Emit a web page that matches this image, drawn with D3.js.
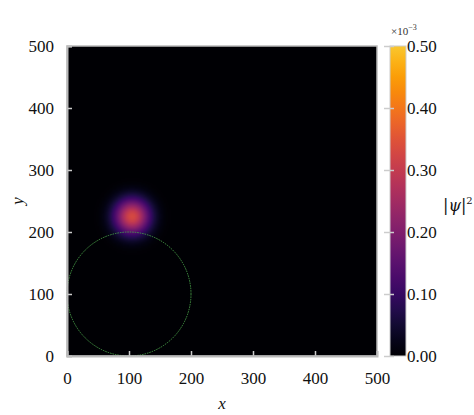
<!DOCTYPE html>
<meta charset="utf-8">
<style>
    body { margin: 0; background: #fff; }
    text { font-family: "Liberation Serif", "DejaVu Serif", serif; }
</style>
<body>
<script src="https://cdn.jsdelivr.net/npm/d3@7"></script>
<script>
    /* data */
    var xTicks = [0, 100, 200, 300, 400, 500];
    var yTicks = [0, 100, 200, 300, 400, 500];
    var cbTicks = [0, 0.1, 0.2, 0.3, 0.4, 0.5];      // x 1e-3
    var blobCenter = [105, 225];                     // packet position
    var blobSigma = [20, 20];                        // packet width
    var blobPeak = [0.33];                           // |psi|^2 peak, x 1e-3
    var circleCenter = [100, 100];
    var circleRadius = [100];

    var w = 474, h = 415;
    var pLeft = 67, pRight = 377, pTop = 46, pBottom = 356;
    var fontFam = "'Liberation Serif', serif";

    var svg = d3.select("body").append("svg").attr("width", w).attr("height", h);

    var xScale = d3.scaleLinear().domain([0, 500]).range([pLeft, pRight]);
    var yScale = d3.scaleLinear().domain([0, 500]).range([pBottom, pTop]);
    var cScale = d3.scaleSequential(function (t) { return d3.interpolateInferno(t * 0.87); }).domain([0, 0.5]);

    /* density image drawn on a canvas, one pixel per grid cell */
    var n = 250;
    var canvas = document.createElement("canvas");
    canvas.width = n; canvas.height = n;
    var ctx = canvas.getContext("2d");
    var img = ctx.createImageData(n, n);
    for (var j = 0; j < n; j++) {
        for (var i = 0; i < n; i++) {
            var x = (i + 0.5) * 500 / n, y = 500 - (j + 0.5) * 500 / n;
            var dx = (x - blobCenter[0]) / blobSigma[0], dy = (y - blobCenter[1]) / blobSigma[1];
            var v = blobPeak[0] * Math.exp(-(dx * dx + dy * dy) / 2);
            var c = d3.rgb(cScale(v));
            var k = (j * n + i) * 4;
            img.data[k] = c.r; img.data[k + 1] = c.g; img.data[k + 2] = c.b; img.data[k + 3] = 255;
        }
    }
    ctx.putImageData(img, 0, 0);
    svg.append("image")
        .attr("x", pLeft).attr("y", pTop)
        .attr("width", pRight - pLeft).attr("height", pBottom - pTop)
        .attr("preserveAspectRatio", "none")
        .attr("href", canvas.toDataURL());

    // circle
    svg.append("circle")
        .attr("cx", xScale(circleCenter[0]))
        .attr("cy", yScale(circleCenter[1]))
        .attr("r", xScale(circleRadius[0]) - xScale(0))
        .attr("fill", "none")
        .attr("stroke", "#48a048")
        .attr("stroke-width", 0.9)
        .attr("stroke-dasharray", "1.5,1");

    // axes
    var xAxis = d3.axisBottom(xScale).tickValues(xTicks).tickSize(-5).tickPadding(16);
    var yAxis = d3.axisLeft(yScale).tickValues(yTicks).tickSize(-5).tickPadding(13);
    var gx = svg.append("g").attr("transform", "translate(0," + pBottom + ")").call(xAxis);
    var gy = svg.append("g").attr("transform", "translate(" + pLeft + ",0)").call(yAxis);
    [gx, gy].forEach(function (g) {
        g.selectAll("path").attr("stroke", "#bbb").attr("stroke-width", 2);
        g.selectAll("line").attr("stroke", "#ccc").attr("stroke-width", 1.5);
        g.selectAll("text").attr("font-size", 17).attr("fill", "#111")
            .style("font-family", fontFam);
    });
    svg.append("rect").attr("x", pLeft).attr("y", pTop).attr("width", pRight - pLeft).attr("height", pBottom - pTop)
        .attr("fill", "none").attr("stroke", "#bbb").attr("stroke-width", 1.5);

    svg.append("text").attr("x", (pLeft + pRight) / 2).attr("y", 409).attr("text-anchor", "middle")
        .attr("font-size", 17).attr("font-style", "italic").attr("fill", "#111").text("x");
    svg.append("text").attr("transform", "translate(23," + (pTop + pBottom) / 2 + ") rotate(-90)")
        .attr("text-anchor", "middle").attr("font-size", 17).attr("font-style", "italic").attr("fill", "#111").text("y");

    // colorbar
    var cbX = 390, cbW = 16;
    var cbScale = d3.scaleLinear().domain([0, 0.5]).range([pBottom, pTop]);
    var defs = svg.append("defs");
    var grad = defs.append("linearGradient").attr("id", "cbgrad").attr("x1", 0).attr("y1", 1).attr("x2", 0).attr("y2", 0);
    d3.range(0, 1.0001, 0.05).forEach(function (t) {
        grad.append("stop").attr("offset", t).attr("stop-color", cScale(t * 0.5));
    });
    svg.append("rect").attr("x", cbX).attr("y", pTop).attr("width", cbW).attr("height", pBottom - pTop)
        .attr("fill", "url(#cbgrad)");
    var cAxis = d3.axisRight(cbScale).tickValues(cbTicks).tickFormat(d3.format(".2f")).tickSize(0).tickPadding(3);
    var gc = svg.append("g").attr("transform", "translate(" + (cbX + cbW) + ",0)").call(cAxis);
    gc.select("path").remove();
    gc.selectAll("line").attr("x1", -cbW - 6).attr("x2", -cbW + 4).attr("stroke", "#ccc").attr("stroke-width", 1.5);
    gc.selectAll("text").attr("font-size", 17).attr("fill", "#111").attr("x", 1)
        .style("font-family", fontFam);
    svg.append("rect").attr("x", cbX).attr("y", pTop).attr("width", cbW).attr("height", pBottom - pTop)
        .attr("fill", "none").attr("stroke", "#ccc").attr("stroke-width", 1);

    var exp = svg.append("text").attr("x", 391).attr("y", 35).attr("font-size", 11).attr("fill", "#333");
    exp.append("tspan").text("\u00d710");
    exp.append("tspan").attr("dy", -5).attr("font-size", 8).text("\u22123");

    var lab = svg.append("text").attr("x", 443).attr("y", 211).attr("font-size", 16)
        .style("font-family", "'DejaVu Serif', serif").style("fill", "#111");
    lab.append("tspan").text("|");
    lab.append("tspan").attr("font-style", "italic").text("\u03c8");
    lab.append("tspan").text("|");
    lab.append("tspan").attr("dy", -7).attr("font-size", 10).text("2");
</script>
</body>
